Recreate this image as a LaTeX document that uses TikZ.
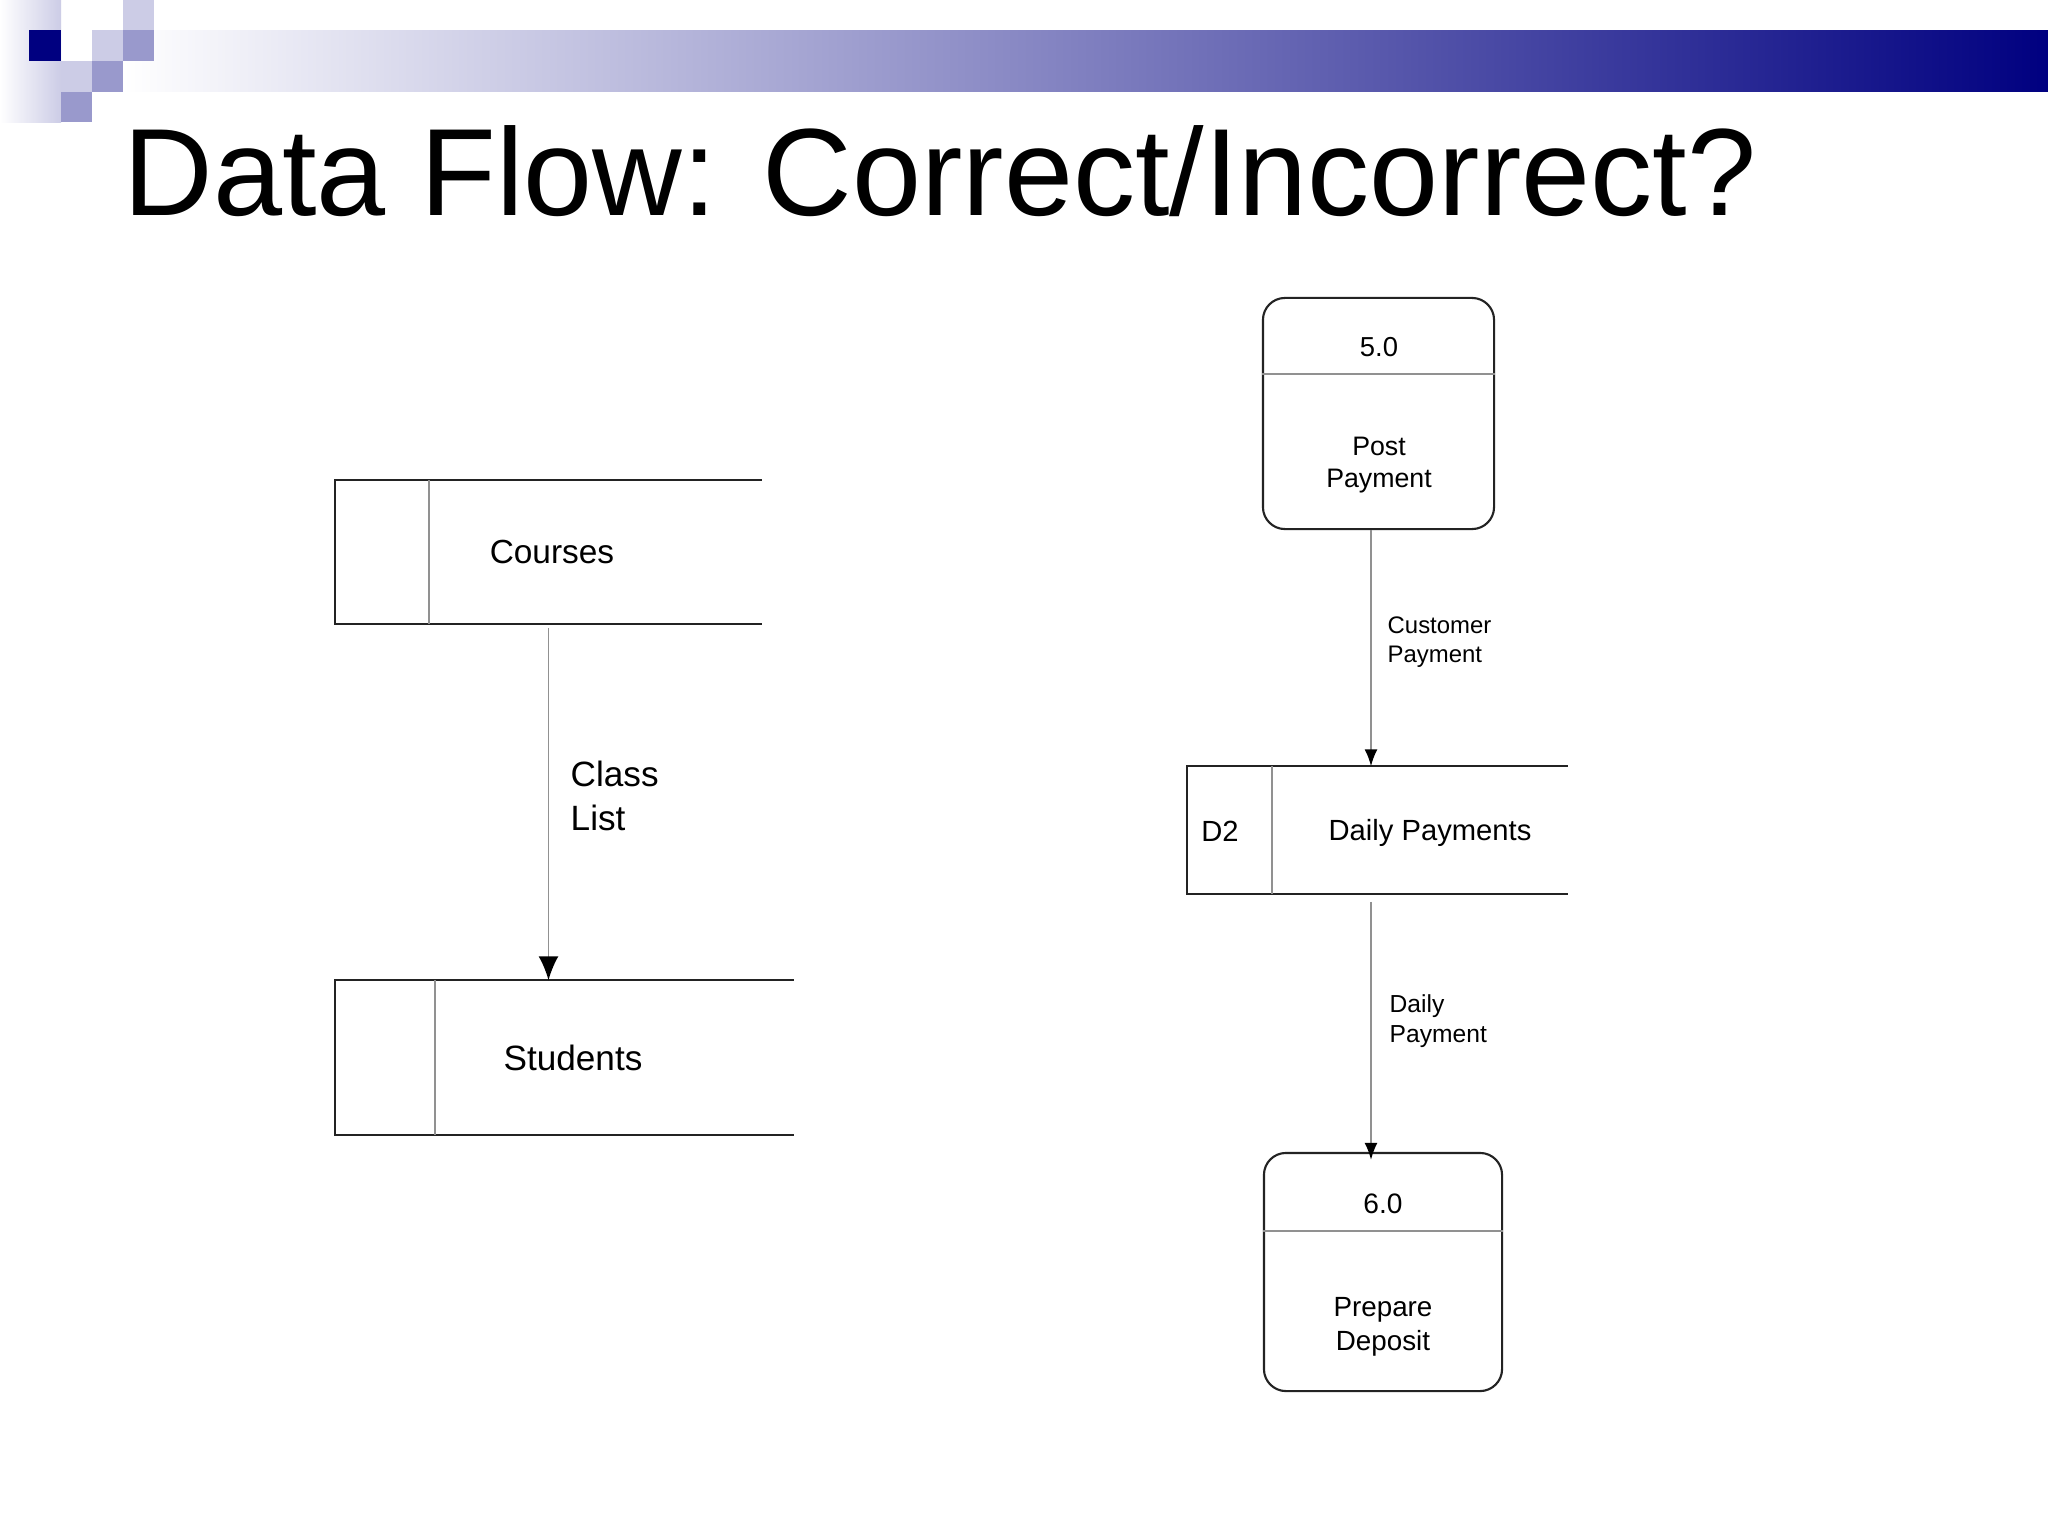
\documentclass[tikz,border=0pt]{standalone}
\usepackage{fontspec}
\setmainfont{Liberation Sans}
\usetikzlibrary{arrows.meta}
\definecolor{navybar}{RGB}{0,0,128}
\definecolor{lightsq}{RGB}{204,204,230}
\definecolor{midsq}{RGB}{153,153,204}
\definecolor{flowgray}{RGB}{145,145,145}
\definecolor{edge}{RGB}{35,35,35}
\begin{document}
\begin{tikzpicture}[x=0.01cm,y=-0.01cm,
  process/.style={draw=edge,line width=0.6pt,rounded corners=0.22cm,inner sep=0pt},
  store/.style={inner sep=0pt},
  outline/.style={draw=edge,line width=0.6pt},
  divider/.style={draw=flowgray,line width=0.5pt},
  flow/.style={draw=flowgray,line width=0.5pt},
  label/.style={align=left,inner sep=0pt,anchor=west}]
\useasboundingbox[fill=white] (0,0) rectangle (2048,1536);
\shade[left color=white,right color=lightsq] (0,0) rectangle (61,122);
\shade[left color=white,right color=navybar] (123,30) rectangle (2048,91);
\fill[navybar] (29,30) rectangle (61,61);
\fill[lightsq] (123,0) rectangle (154,30);
\fill[lightsq] (92,30) rectangle (123,61);
\fill[midsq] (123,30) rectangle (154,61);
\fill[lightsq] (61,61) rectangle (92,92);
\fill[midsq] (92,61) rectangle (123,92);
\fill[midsq] (61,92) rectangle (92,122);
\node[anchor=base west,inner sep=0pt,font=\fontsize{35.3}{40}\selectfont] (title) at (123,215) {Data Flow: Correct/Incorrect?};
\node[store,minimum width=4.25cm,minimum height=1.42cm] (courses) at (548.5,552) {};
\draw[outline] (courses.north east) -- (courses.north west) -- (courses.south west) -- (courses.south east);
\draw[divider] ([xshift=0.94cm]courses.north west) -- ([xshift=0.94cm]courses.south west);
\node[font=\fontsize{9.5}{12}\selectfont] (coursesname) at (552,552) {Courses};
\node[store,minimum width=4.57cm,minimum height=1.53cm] (students) at (564.5,1057.5) {};
\draw[outline] (students.north east) -- (students.north west) -- (students.south west) -- (students.south east);
\draw[divider] ([xshift=1cm]students.north west) -- ([xshift=1cm]students.south west);
\node[font=\fontsize{10}{12}\selectfont] (studentsname) at (573,1057.5) {Students};
\draw[flow,-{Latex[length=0.24cm,width=0.2cm,color=black]}] ([yshift=-0.04cm]courses.south) -- (courses.south |- students.north);
\node[label,font=\fontsize{10}{12.6}\selectfont] (classlist) at (570,796) {Class\\List};
\node[process,minimum width=2.31cm,minimum height=2.31cm] (post) at (1378.5,413.5) {};
\draw[divider] ([yshift=-0.77cm]post.north west) -- ([yshift=-0.77cm]post.north east);
\node[font=\fontsize{7.8}{9}\selectfont] (postnum) at (1379,347) {5.0};
\node[align=center,font=\fontsize{7.6}{9.3}\selectfont] (postname) at (1379,465) {Post\\Payment};
\node[store,minimum width=3.79cm,minimum height=1.26cm] (daily) at (1377.5,830) {};
\draw[outline] (daily.north east) -- (daily.north west) -- (daily.south west) -- (daily.south east);
\draw[divider] ([xshift=0.85cm]daily.north west) -- ([xshift=0.85cm]daily.south west);
\node[font=\fontsize{8.3}{10}\selectfont] (dailyid) at (1220,831) {D2};
\node[font=\fontsize{8.3}{10}\selectfont] (dailyname) at (1430,833) {Daily Payments};
\node[process,minimum width=2.38cm,minimum height=2.38cm] (deposit) at (1383,1272) {};
\draw[divider] ([yshift=-0.79cm]deposit.north west) -- ([yshift=-0.79cm]deposit.north east);
\node[font=\fontsize{8}{9.5}\selectfont] (depositnum) at (1383,1204) {6.0};
\node[align=center,font=\fontsize{7.9}{9.6}\selectfont] (depositname) at (1383,1327) {Prepare\\Deposit};
\draw[flow,-{Latex[length=0.17cm,width=0.13cm,color=black]}] ([xshift=-0.075cm]post.south) -- ([xshift=-0.075cm]post.south |- daily.north);
\node[label,font=\fontsize{6.8}{8.2}\selectfont] (custpay) at (1387,642) {Customer\\Payment};
\draw[flow,-{Latex[length=0.17cm,width=0.13cm,color=black]}] ([xshift=-0.065cm,yshift=-0.08cm]daily.south) -- ([xshift=-0.065cm,yshift=-0.08cm]daily.south |- deposit.north);
\node[label,font=\fontsize{7}{8.5}\selectfont] (dailypay) at (1389,1021) {Daily\\Payment};
\end{tikzpicture}
\end{document}
